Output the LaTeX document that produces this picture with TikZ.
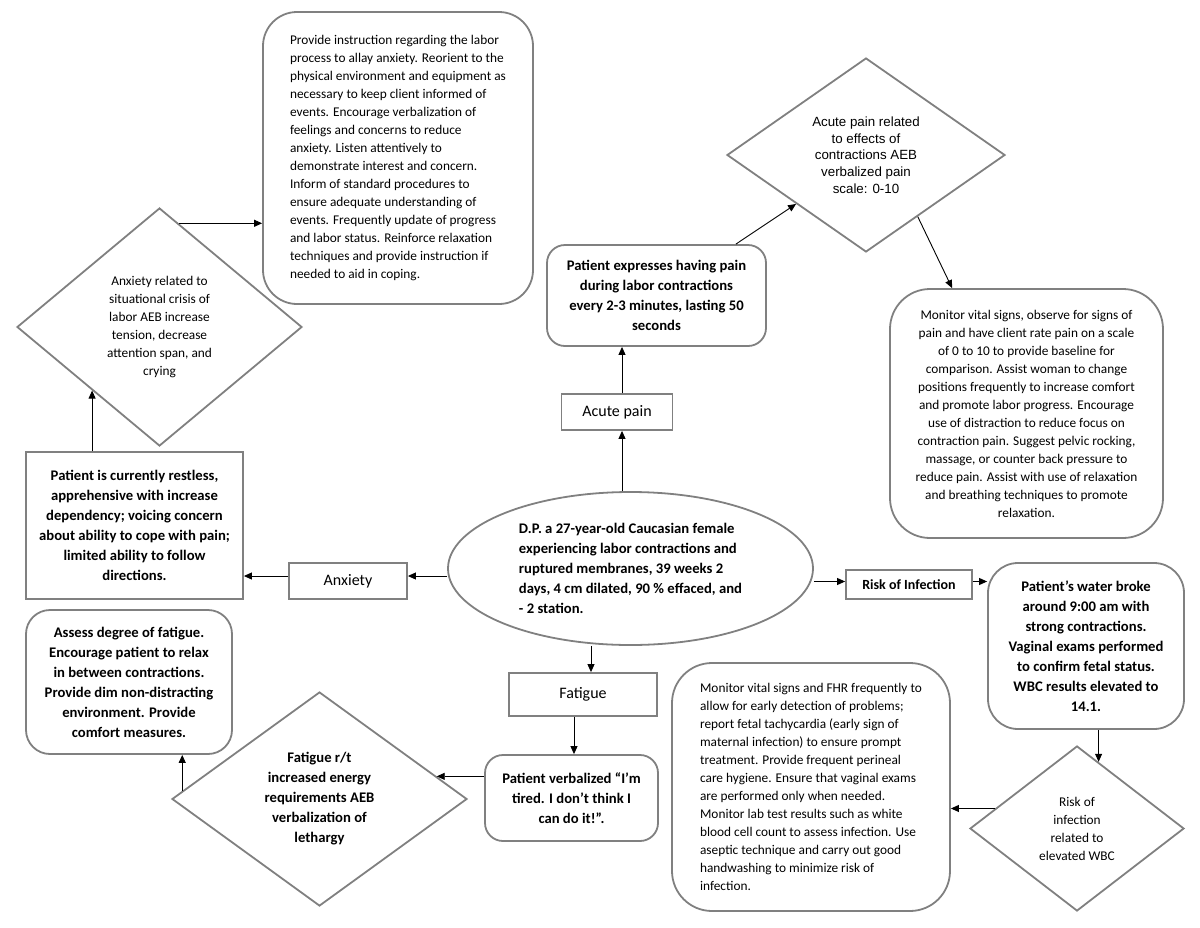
\documentclass[tikz,border=0pt]{standalone}
\usepackage{fontspec}
\setmainfont{Carlito}
\newfontfamily\arialface{Liberation Sans}
\usetikzlibrary{shapes.geometric,arrows.meta,calc}
\definecolor{edgegray}{RGB}{128,128,128}
\newcommand\bodyfont{\fontsize{13.33}{18}\selectfont}
\newcommand\heavyfont{\fontsize{14.67}{20}\selectfont\bfseries}
\newcommand\tagfont{\fontsize{16}{18}\selectfont}
\newcommand\riskfont{\fontsize{14}{16}\selectfont\bfseries}
\newcommand\diafont{\arialface\fontsize{13.33}{16.7}\selectfont}
\tikzset{
  box/.style={draw=edgegray, line width=1.8pt, inner sep=0pt, align=center, font=\bodyfont},
  flatbox/.style={box, rectangle},
  softbox/.style={box, rectangle, rounded corners=#1},
  decision/.style={box, diamond, aspect=#1},
  arr/.style={-{Triangle[length=8pt,width=7pt]}, line width=0.9pt},
}
\begin{document}
\begin{tikzpicture}[x=1pt, y=-1pt]
  \useasboundingbox (0,0) rectangle (1200,927);

  \node[softbox=34pt, minimum width=270pt, minimum height=292pt, align=left] (instruct) at (398,158)
    {Provide instruction regarding the labor\\process to allay anxiety. Reorient to the\\physical environment and equipment as\\necessary to keep client informed of\\events. Encourage verbalization of\\feelings and concerns to reduce\\anxiety. Listen attentively to\\demonstrate interest and concern.\\Inform of standard procedures to\\ensure adequate understanding of\\events. Frequently update of progress\\and labor status. Reinforce relaxation\\techniques and provide instruction if\\needed to aid in coping.};
  \node[decision=1.2, minimum width=285pt, minimum height=238pt] (anxdia) at (159.5,327)
    {Anxiety related to\\situational crisis of\\labor AEB increase\\tension, decrease\\attention span, and\\crying};
  \node[flatbox, minimum width=217pt, minimum height=147pt, font=\heavyfont] (anxpat) at (134.5,525.5)
    {Patient is currently restless,\\apprehensive with increase\\dependency; voicing concern\\about ability to cope with pain;\\limited ability to follow\\directions.};
  \node[flatbox, minimum width=118pt, minimum height=36pt, font=\tagfont] (anxbox) at (348,581) {Anxiety};
  \node[box, ellipse, minimum width=365pt, minimum height=153pt, align=left, font=\heavyfont] (dp) at (630.5,568.5)
    {D.P. a 27-year-old Caucasian female\\experiencing labor contractions and\\ruptured membranes, 39 weeks 2\\days, 4 cm dilated, 90 \% effaced, and\\- 2 station.};
  \node[flatbox, minimum width=111pt, minimum height=36pt, font=\tagfont] (painbox) at (617,412) {Acute pain};
  \node[softbox=18pt, minimum width=219pt, minimum height=101pt, font=\heavyfont] (expbox) at (656.5,295.5)
    {Patient expresses having pain\\during labor contractions\\every 2-3 minutes, lasting 50\\seconds};
  \node[decision=1.43, minimum width=278pt, minimum height=194pt, font=\diafont] (paindia) at (866,155)
    {Acute pain related\\to effects of\\contractions AEB\\verbalized pain\\scale: 0-10};
  \node[softbox=40pt, minimum width=273pt, minimum height=249pt] (paincare) at (1026.5,413.5)
    {Monitor vital signs, observe for signs of\\pain and have client rate pain on a scale\\of 0 to 10 to provide baseline for\\comparison. Assist woman to change\\positions frequently to increase comfort\\and promote labor progress. Encourage\\use of distraction to reduce focus on\\contraction pain. Suggest pelvic rocking,\\massage, or counter back pressure to\\reduce pain. Assist with use of relaxation\\and breathing techniques to promote\\relaxation.};
  \node[flatbox, minimum width=126pt, minimum height=29pt, font=\riskfont] (riskbox) at (909,584.5) {Risk of Infection};
  \node[softbox=30pt, minimum width=196pt, minimum height=166pt, font=\heavyfont] (waterbox) at (1086,646)
    {Patient’s water broke\\around 9:00 am with\\strong contractions.\\Vaginal exams performed\\to confirm fetal status.\\WBC results elevated to\\14.1.};
  \node[decision=1.3, minimum width=214pt, minimum height=165pt] (riskdia) at (1077,828.5)
    {Risk of\\infection\\related to\\elevated WBC};
  \node[softbox=40pt, minimum width=278pt, minimum height=248pt, align=left] (riskcare) at (811,787)
    {Monitor vital signs and FHR frequently to\\allow for early detection of problems;\\report fetal tachycardia (early sign of\\maternal infection) to ensure prompt\\treatment. Provide frequent perineal\\care hygiene. Ensure that vaginal exams\\are performed only when needed.\\Monitor lab test results such as white\\blood cell count to assess infection. Use\\aseptic technique and carry out good\\handwashing to minimize risk of\\infection.};
  \node[flatbox, minimum width=148pt, minimum height=43pt, font=\tagfont] (fatbox) at (583,694.5) {Fatigue};
  \node[softbox=18pt, minimum width=173pt, minimum height=86pt, font=\heavyfont] (verbbox) at (571.5,798)
    {Patient verbalized “I’m\\tired. I don’t think I\\can do it!”.};
  \node[decision=1.38, minimum width=295pt, minimum height=214pt, font=\heavyfont] (fatdia) at (319.5,799)
    {Fatigue r/t\\increased energy\\requirements AEB\\verbalization of\\lethargy};
  \node[softbox=24pt, minimum width=206pt, minimum height=144pt, font=\heavyfont] (fatcare) at (129,682)
    {Assess degree of fatigue.\\Encourage patient to relax\\in between contractions.\\Provide dim non-distracting\\environment. Provide\\comfort measures.};

  \coordinate (anxout)  at ($(anxdia.north)!0.135!(anxdia.east)$);
  \coordinate (anxin)   at ($(anxdia.west)!0.53!(anxdia.south)$);
  \coordinate (painout) at ($(paindia.south)!0.37!(paindia.east)$);
  \coordinate (riskin)  at ($(riskdia.north)!0.2!(riskdia.east)$);
  \coordinate (riskout) at ($(riskdia.west)!0.24!(riskdia.north)$);
  \coordinate (fatin)   at ($(fatdia.east)!0.21!(fatdia.north)$);
  \coordinate (fatout)  at ($(fatdia.west)!0.075!(fatdia.north)$);

  \draw[arr] (anxout) -- (anxout -| instruct.west);
  \draw[arr] (anxin |- anxpat.north) -- (anxin);
  \draw[arr] ([yshift=5pt]anxbox.east -| dp.west) -- ([yshift=5pt]anxbox.east);
  \draw[arr] ([yshift=5pt]anxbox.west) -- ([yshift=5pt]anxbox.west -| anxpat.east);
  \draw[arr] ([xshift=5pt]painbox.south |- dp.north) -- ([xshift=5pt]painbox.south);
  \draw[arr] ([xshift=5pt]painbox.north) -- ([xshift=5pt]painbox.north |- expbox.south);
  \draw[arr] ([xshift=-31pt]expbox.north east) -- (paindia.south west);
  \draw[arr] (painout) -- ([xshift=63pt]paincare.north west);
  \draw[arr] ([yshift=3pt]riskbox.west -| dp.east) -- ([yshift=3pt]riskbox.west);
  \draw[arr] ([yshift=3pt]riskbox.east) -- ([yshift=3pt]riskbox.east -| waterbox.west);
  \draw[arr] (riskin |- waterbox.south) -- (riskin);
  \draw[arr] (riskout) -- (riskout -| riskcare.east);
  \draw[arr] ([xshift=8pt]fatbox.north |- dp.south) -- ([xshift=8pt]fatbox.north);
  \draw[arr] ([xshift=-9pt]fatbox.south) -- ([xshift=-9pt]fatbox.south |- verbbox.north);
  \draw[arr] (fatin -| verbbox.west) -- (fatin);
  \draw[arr] (fatout) -- (fatout |- fatcare.south);
\end{tikzpicture}
\end{document}
